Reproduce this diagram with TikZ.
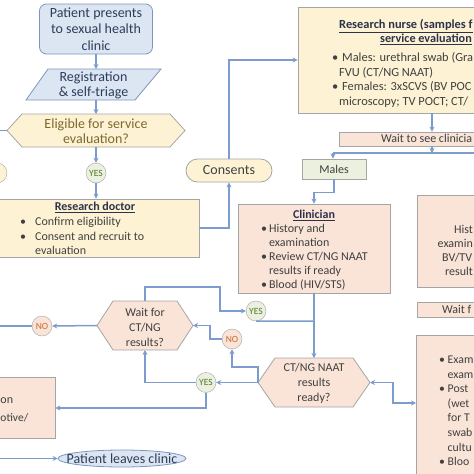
\documentclass[tikz,border=0pt]{standalone}
\usepackage{fontspec}
\setmainfont{Carlito}
\usetikzlibrary{arrows.meta,shapes.geometric}
\definecolor{ln}{RGB}{124,156,206}
\definecolor{bluefill}{RGB}{220,230,242}
\definecolor{bluebd}{RGB}{125,150,190}
\definecolor{yelfill}{RGB}{253,243,212}
\definecolor{peachfill}{RGB}{249,228,215}
\definecolor{greenfill}{RGB}{235,241,222}
\definecolor{bd}{RGB}{165,165,165}
\definecolor{tx}{RGB}{64,64,64}
\definecolor{ttl}{RGB}{45,50,75}
\definecolor{olive}{RGB}{125,105,45}
\definecolor{yestx}{RGB}{80,120,40}
\definecolor{notx}{RGB}{205,105,50}
\definecolor{bluetx}{RGB}{45,60,90}
\newcommand\fBig{\fontsize{14}{16.3}\selectfont}
\newcommand\fBigT{\fontsize{14}{15}\selectfont}
\newcommand\fBody{\fontsize{12}{14.5}\selectfont}
\newcommand\fSmall{\fontsize{9.5}{10}\selectfont}
\newcommand\mybul[1]{\makebox[#1][l]{\textbullet}}
\begin{document}
\begin{tikzpicture}[x=1pt,y=-1pt,
  conn/.style={draw=ln,line width=1.5pt},
  arr/.style={conn,-{Stealth[length=5pt,width=5pt]}},
  dbl/.style={conn,{Stealth[length=5pt,width=5pt]}-{Stealth[length=5pt,width=5pt]}},
  boxbase/.style={draw=bd,line width=0.8pt,inner sep=0pt},
  bluebox/.style={boxbase,draw=bluebd,fill=bluefill},
  yelbox/.style={boxbase,fill=yelfill},
  peachbox/.style={boxbase,fill=peachfill},
  greenbox/.style={boxbase,fill=greenfill},
  txt/.style={inner sep=0pt,text=tx,font=\fBody},
  ttxt/.style={inner sep=0pt,text=ttl,font=\fBody\bfseries},
  yescirc/.style={circle,draw=bd,fill=greenfill,minimum size=20pt,inner sep=0pt,text=yestx,font=\fSmall},
  nocirc/.style={circle,draw=bd,fill=peachfill,minimum size=20pt,inner sep=0pt,text=notx,font=\fSmall}]
\useasboundingbox (0,0) rectangle (474,474);
\clip (0,0) rectangle (474,474);

% --- top left column
\node[bluebox,rounded corners=7pt,minimum width=113pt,minimum height=50pt,align=center,font=\fBig,text=bluetx] (pp) at (96,29) {Patient presents\\to sexual health\\clinic};
\draw[draw=bluebd,fill=bluefill,line width=0.8pt] (48,69) -- (161,69) -- (135,100) -- (26,100) -- cycle;
\coordinate (regN) at (96,69);
\coordinate (regS) at (96,100);
\node[txt,font=\fBigT,text=bluetx,align=center] (reg) at (93.5,85.5) {Registration\\\& self-triage};
\draw[arr] (pp.south) -- (regN);

\draw[draw=bd,fill=yelfill,line width=0.8pt] (7,130.5) -- (22,114) -- (170,114) -- (185,130.5) -- (170,147) -- (22,147) -- cycle;
\coordinate (elN) at (96,114);
\coordinate (elS) at (96,147);
\coordinate (elW) at (7,130.5);
\node[txt,font=\fBigT,text=olive,align=center] (elig) at (96,131.5) {Eligible for service\\evaluation?};
\draw[arr] (regS) -- (elN);
\coordinate (offA) at (-10,130.5);
\draw[conn] (elW) -- (offA);
\node[circle,draw=bd,fill=yelfill,minimum size=20pt,inner sep=0pt] (no0) at (-3,173) {};

\node[yescirc] (yes1) at (96,173) {YES};
\draw[arr] (elS) -- (yes1.north);
\node[yelbox,minimum width=229pt,minimum height=58pt] (doc) at (84.5,228) {};
\draw[arr] (yes1.south) -- (doc.north -| yes1.south);
\node[ttxt,anchor=base] (docT) at (95,210.5) {\underline{Research doctor}};
\node[txt,anchor=base west] (docB) at (20,225.5) {\begin{tabular}[t]{@{}l@{}}\mybul{15pt}Confirm eligibility\\ \mybul{15pt}Consent and recruit to\\ \hspace*{15pt}evaluation\end{tabular}};

% --- consents and nurse
\node[yelbox,rounded corners=11.5pt,minimum width=86pt,minimum height=23pt,font=\fBig,text=tx] (cons) at (229,170.5) {Consents};
\node[yelbox,minimum width=262pt,minimum height=106pt] (nurse) at (429,60) {};
\draw[arr] (doc.east) -| (cons.south);
\draw[arr] (cons.north) |- (nurse.west);
\node[ttxt,anchor=base west,font=\fontsize{12.4}{14.5}\selectfont\bfseries] (nT1) at (339,28.5) {\underline{Research nurse (samples f}};
\node[ttxt,anchor=base west,font=\fontsize{12.2}{14.5}\selectfont\bfseries] (nT2) at (380,42.5) {\underline{service evaluation}};
\node[txt,anchor=base west,font=\fontsize{12.4}{14.5}\selectfont] (nB) at (332,61.5) {\begin{tabular}[t]{@{}l@{}}\mybul{10pt}Males: urethral swab (Gra\\ \hspace*{7pt}FVU (CT/NG NAAT)\\ \mybul{10pt}Females: 3xSCVS (BV POC\\ \hspace*{7pt}microscopy; TV POCT; CT/\end{tabular}};

\node[peachbox,minimum width=221pt,minimum height=14pt] (wait) at (449.5,139) {};
\node[txt,anchor=base west] (waitT) at (381,142.5) {Wait to see clinicia};
\coordinate (jw) at (432,153);
\coordinate (jm) at (333,153);
\draw[arr] (nurse.south -| jw) -- (wait.north -| jw);
\draw[arr] (wait.south -| jw) -- (jw);
\draw[conn] (jm) -- ++(200,0);

\node[greenbox,minimum width=64pt,minimum height=20pt,font=\fBody,text=tx] (males) at (334,169) {Males};
\draw[arr] (jm) -- (males.north -| jm);

% --- clinician
\node[peachbox,minimum width=152pt,minimum height=89pt] (clin) at (314,248.5) {};
\draw[arr] (males.south) -- ++(0,13) -| (clin.north);
\node[ttxt,anchor=base] (clinT) at (314,218.5) {\underline{Clinician}};
\node[txt,anchor=base west,font=\fontsize{12}{14}\selectfont] (clinB) at (261,232.5) {\begin{tabular}[t]{@{}l@{}}\mybul{8pt}History and\\ \hspace*{8pt}examination\\ \mybul{8pt}Review CT/NG NAAT\\ \hspace*{8pt}results if ready\\ \mybul{8pt}Blood (HIV/STS)\end{tabular}};

% --- right column
\node[peachbox,minimum width=143pt,minimum height=92pt] (hist) at (488.5,241) {};
\node[txt,anchor=base west] (r1) at (454,233.5) {Hist};
\node[txt,anchor=base west] (r2) at (437.5,247.5) {examin};
\node[txt,anchor=base west] (r3) at (442,261.5) {BV/TV};
\node[txt,anchor=base west] (r4) at (445,275.5) {result};

\node[peachbox,minimum width=143pt,minimum height=15pt] (waitf) at (488.5,309.5) {};
\node[txt,anchor=base west] (waitfT) at (442,313.5) {Wait f};

\node[peachbox,minimum width=144pt,minimum height=145pt] (exam) at (488,407.5) {};
\node[txt,anchor=base west,font=\fontsize{11.8}{14.6}\selectfont] (examB) at (439,363.5) {\begin{tabular}[t]{@{}l@{}}\mybul{8.5pt}Exam\\ \hspace*{8.5pt}exam\\ \mybul{8.5pt}Post\\ \hspace*{8.5pt}(wet\\ \hspace*{8.5pt}for T\\ \hspace*{8.5pt}swab\\ \hspace*{8.5pt}cultu\\ \mybul{8.5pt}Bloo\end{tabular}};

% --- CT/NG results ready hexagon
\draw[draw=bd,fill=peachfill,line width=0.8pt] (258,382.5) -- (275,358) -- (353,358) -- (370,382.5) -- (353,407) -- (275,407) -- cycle;
\coordinate (ctN) at (314,358);
\coordinate (ctW) at (258,382.5);
\coordinate (ctE) at (370,382.5);
\node[txt,align=center,font=\fontsize{12}{15}\selectfont] (ctng) at (314,383) {CT/NG NAAT\\results\\ready?};
\draw[arr] (clin.south) -- (ctN);
\draw[dbl] (ctE) -- ++(23,0) -- ++(0,20.5) -- ++(23,0);

% --- wait for results hexagon
\draw[draw=bd,fill=peachfill,line width=0.8pt] (97,325.5) -- (113,301) -- (177,301) -- (193,325.5) -- (177,350) -- (113,350) -- cycle;
\coordinate (wfN) at (145,301);
\coordinate (wfS) at (145,350);
\coordinate (wfW) at (97,325.5);
\coordinate (wfE) at (193,325.5);
\node[txt,align=center,font=\fontsize{12}{15}\selectfont] (wf) at (145,327) {Wait for\\CT/NG\\results?};

\node[yescirc] (yes2) at (256,311) {YES};
\coordinate (jb) at (314,321);
\draw[conn] (jb) -- (yes2.south);
\draw[arr] (wfN) -- ++(0,-14) -- ++(75,0) |- (yes2.west);

\node[nocirc] (no2) at (232,339) {NO};
\draw[arr] (no2.west) -- ++(-12,0) |- (wfE);
\draw[arr] (ctW) -- ++(0,-15.5) -| (no2.south);

\node[yescirc] (yes3) at (206,382.5) {YES};
\draw[arr] (ctW) -- (yes3.east);
\draw[arr] (yes3.west) -| (wfS);

\node[nocirc] (no1) at (42,326) {NO};
\draw[arr] (wfW) -- (no1.east);
\coordinate (offB) at (-20,326);
\draw[conn] (no1.west) -- (offB);

% --- left box
\node[peachbox,minimum width=120pt,minimum height=61pt] (leftb) at (-5,408) {};
\draw[arr] (yes3.south) |- (leftb.east);
\node[txt,anchor=base west] (lb1) at (0.3,403.5) {on};
\node[txt,anchor=base west,font=\fontsize{11.5}{14}\selectfont] (lb2) at (0.3,421.5) {otive/};

% --- patient leaves
\node[ellipse,draw=bluebd,fill=bluefill,line width=0.8pt,minimum width=128pt,minimum height=17pt,inner sep=0pt] (leave) at (122,458.5) {};
\node[txt,font=\fBig,text=bluetx] (leaveT) at (122,459) {Patient leaves clinic};
\coordinate (offC) at (-10,458.5);
\draw[arr] (offC) -- (leave.west);
\end{tikzpicture}
\end{document}
